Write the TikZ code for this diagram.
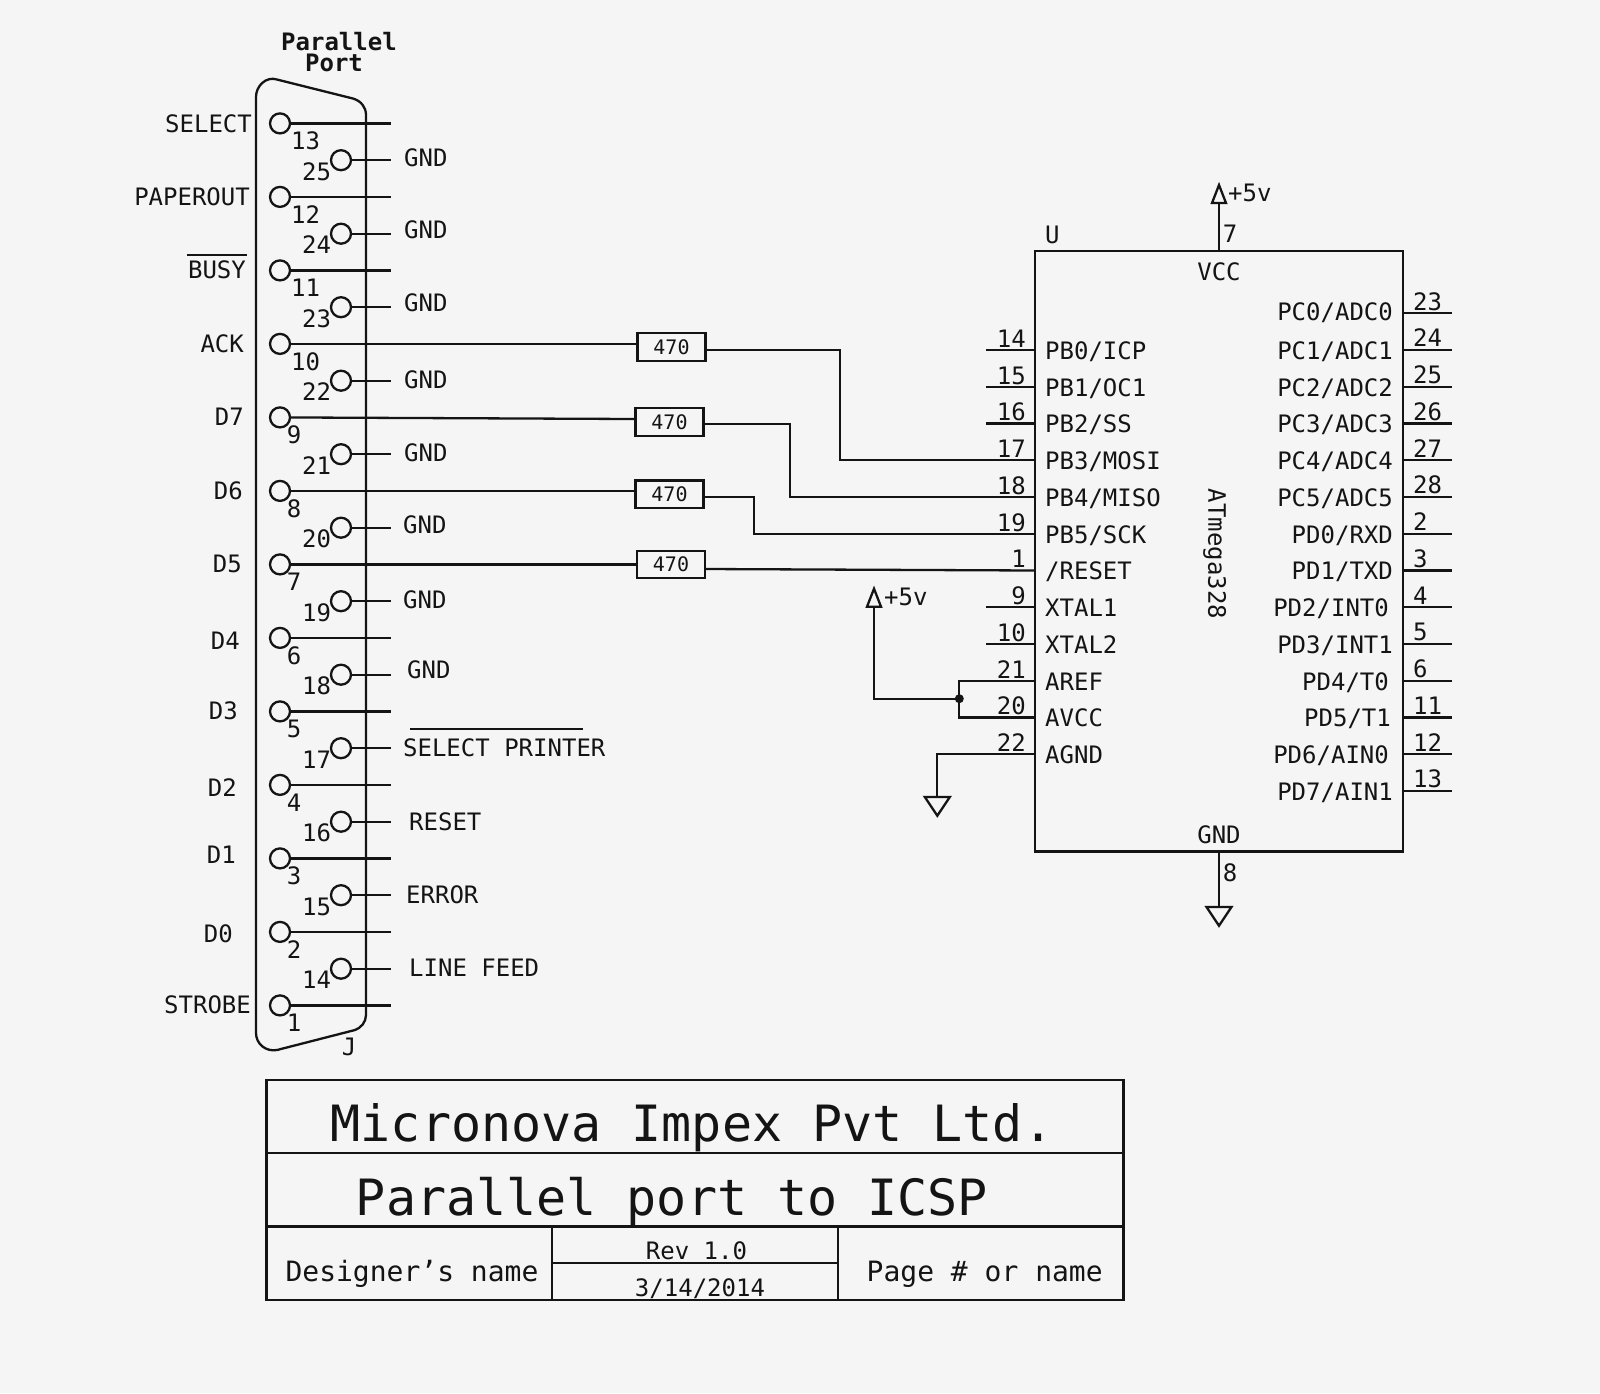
\documentclass[tikz,border=0pt]{standalone}
\usepackage{fontspec}
\setmainfont{DejaVu Sans Mono}
\newcommand{\fsz}[1]{\fontsize{#1}{#1}\selectfont}
\definecolor{paper}{HTML}{F5F5F5}
\definecolor{ink}{HTML}{141414}
\tikzset{
  lbl/.style={font=\fsz{24},text=ink,inner sep=0pt,text height=17.5pt,text depth=0pt},
  lblr/.style={font=\fsz{20},text=ink,inner sep=0pt,text height=14.6pt,text depth=0pt},
  lblm/.style={font=\fsz{28},text=ink,inner sep=0pt,text height=20.4pt,text depth=0pt},
  lblb/.style={font=\fsz{50},text=ink,inner sep=0pt,text height=36.5pt,text depth=0pt},
  hdr/.style={lbl,font=\fsz{24}\bfseries},
  socket/.style={circle,draw=ink,line width=2.3pt,minimum size=20pt,inner sep=0pt},
  res/.style={rectangle,draw=ink,line width=2.3pt,minimum width=68pt,minimum height=27.5pt,lblr},
  vdd/.pic={\draw[ink,line width=2.3pt] (-7,0) -- (0,-18) -- (7,0) -- cycle;},
  gnd/.pic={\draw[ink,line width=2.3pt] (-12.5,0) -- (12.5,0) -- (0,18.7) -- cycle;}
}
\begin{document}
\begin{tikzpicture}
  [x=1pt,y=-1pt,line width=2.3pt,every path/.style={draw=ink}]

  \fill[paper,draw=none] (0,0) rectangle (1600,1393);

  \node[hdr] (hdr1) at (339,42) {Parallel};
  \node[hdr] (hdr2) at (334,63) {Port};

  \draw (256,97) .. controls (256,86) and (266,76) .. (277,79.5)
    -- (353,98.5) .. controls (361,101) and (366,107) .. (366,115)
    -- (366,1015) .. controls (366,1022) and (361,1028) .. (355,1030)
    -- (277,1050) .. controls (266,1052) and (256,1044) .. (256,1033) -- cycle;
  \node[lbl] (jname) at (349,1047) {J};

  \foreach \pnum/\prow in {13/0,12/1,11/2,10/3,9/4,8/5,7/6,6/7,5/8,4/9,3/10,2/11,1/12}
    \node[socket] (j\pnum) at (280,{123.4+73.5*\prow}) {};
  \foreach \pnum/\prow in {25/0,24/1,23/2,22/3,21/4,20/5,19/6,18/7,17/8,16/9,15/10,14/11}
    \node[socket] (j\pnum) at (341,{160.2+73.5*\prow}) {};

  \foreach \pnum in {13,12,11,10}
    \node[lbl] (n\pnum) at ([shift={(25.5,17.5)}]j\pnum) {\pnum};
  \foreach \pnum in {9,8,7,6,5,4,3,2,1}
    \node[lbl] (n\pnum) at ([shift={(14,17.5)}]j\pnum) {\pnum};
  \foreach \pnum in {25,24,23,22,21,20,19,18,17,16,15,14}
    \node[lbl] (n\pnum) at ([shift={(-24.5,11.5)}]j\pnum) {\pnum};

  \foreach \pnum in {13,12,11,6,5,4,3,2,1,25,24,23,22,21,20,19,18,17,16,15,14} {
    \coordinate (e\pnum) at (391,0 |- j\pnum);
    \draw (j\pnum) -- (e\pnum);
  }

  \foreach \pname/\px/\py in {SELECT/253/123.5,PAPEROUT/251/197,BUSY/247/270,ACK/245/344,
      D7/245/417,D6/244/491,D5/243/564,D4/241/641,D3/239/711,D2/238/788,D1/237/855,
      D0/234/934,STROBE/252/1005}
    \node[lbl,anchor=east] (l\pname) at (\px,\py) {\pname};
  \draw ([yshift=5pt]lBUSY.north west) -- ([yshift=5pt]lBUSY.north east);

  \foreach \pname/\px/\py in {a/403/158,b/403/230,c/403/303,d/403/380,e/403/453,
      f/402/525,g/402/600,h/406/670}
    \node[lbl,anchor=west] (gnd\pname) at (\px,\py) {GND};
  \node[lbl,anchor=west] (selpr) at (402,748) {SELECT PRINTER};
  \node[lbl,anchor=west] (rst) at (408,822) {RESET};
  \node[lbl,anchor=west] (err) at (405,895) {ERROR};
  \node[lbl,anchor=west] (lf) at (408,968) {LINE FEED};
  \draw ([shift={(8,-9)}]selpr.north west) -- ([shift={(-24,-9)}]selpr.north east);

  \node[res] (r1) at (671.5,347) {470};
  \node[res] (r2) at (669.5,422) {470};
  \node[res] (r3) at (669.5,494.3) {470};
  \node[res] (r4) at (671,564.5) {470};

  \node[draw,minimum width=368pt,minimum height=600.5pt,inner sep=0pt] (u) at (1219,551.3) {};
  \node[lbl,anchor=west] (uname) at (1044,235) {U};
  \node[lbl] (vcc) at (1219,271.7) {VCC};
  \node[lbl] (gndu) at (1219,835) {GND};
  \node[lbl,rotate=-90] (chip) at (1217,554) {ATmega328};

  \foreach \pnum/\pname/\prow in {14/{PB0/ICP}/0,15/{PB1/OC1}/1,16/{PB2/SS}/2,17/{PB3/MOSI}/3,
      18/{PB4/MISO}/4,19/{PB5/SCK}/5,1/{/RESET}/6,9/XTAL1/7,10/XTAL2/8,21/AREF/9,20/AVCC/10,22/AGND/11} {
    \coordinate (u\pnum) at (1035,{350+36.75*\prow});
    \node[lbl,anchor=west] (s\pnum) at (1044,{350.5+36.75*\prow}) {\pname};
    \node[lbl,anchor=east] (m\pnum) at (1027,{338.5+36.75*\prow}) {\pnum};
  }
  \foreach \pnum/\pname/\prow/\px/\py in {23/{PC0/ADC0}/-1/1394/-2,24/{PC1/ADC1}/0/1394/0,25/{PC2/ADC2}/1/1394/0,
      26/{PC3/ADC3}/2/1394/0,27/{PC4/ADC4}/3/1394/0,28/{PC5/ADC5}/4/1394/0,2/{PD0/RXD}/5/1394/0,
      3/{PD1/TXD}/6/1394/0,4/{PD2/INT0}/7/1390/0,5/{PD3/INT1}/8/1394/0,6/{PD4/T0}/9/1390/0,
      11/{PD5/T1}/10/1392/0,12/{PD6/AIN0}/11/1390/0,13/{PD7/AIN1}/12/1394/0} {
    \coordinate (w\pnum) at (1403,{350+36.75*\prow});
    \coordinate (x\pnum) at (1452,{350+36.75*\prow});
    \draw (w\pnum) -- (x\pnum);
    \node[lbl,anchor=east] (t\pnum) at (\px,{350.5+\py+36.75*\prow}) {\pname};
    \node[lbl,anchor=west] (q\pnum) at (1412,{338+36.75*\prow}) {\pnum};
  }

  \foreach \pnum/\prow in {14/0,15/1,16/2,9/7,10/8} {
    \coordinate (a\pnum) at (986,{350+36.75*\prow});
    \draw (a\pnum) -- (u\pnum);
  }

  \draw (j10) -- (r1.west |- j10);
  \draw (j9) -- (r2.west |- 0,419);
  \draw (j8) -- (r3.west |- j8);
  \draw (j7) -- (r4.west |- j7);

  \coordinate (t1) at (840,350.3);
  \coordinate (t2) at (790,424.3);
  \coordinate (t3) at (754,497.3);
  \draw ([yshift=-3.3pt]r1.east) -- (t1) |- (u17);
  \draw ([yshift=-2.3pt]r2.east) -- (t2) |- (u18);
  \draw ([yshift=-3pt]r3.east) -- (t3) |- (u19);
  \draw ([yshift=-4.5pt]r4.east) -- (u1);

  \coordinate (vcctop) at (1219,203);
  \draw (vcctop) -- (vcctop |- u.north);
  \pic at (vcctop) {vdd};
  \node[lbl,anchor=west] (v5a) at (1227,192.7) {+5v};
  \node[lbl] (n7b) at (1230,234) {7};

  \coordinate (gndtop) at (1219,907);
  \draw (gndtop |- u.south) -- (gndtop);
  \pic at (gndtop) {gnd};
  \node[lbl] (n8b) at (1230,872.5) {8};

  \node[circle,fill=ink,minimum size=9pt,inner sep=0pt] (dot) at (959.3,698.7) {};
  \coordinate (vtop) at (874,606.7);
  \node[lbl,anchor=west] (v5b) at (883,596.7) {+5v};
  \draw (dot.center) -- (vtop |- dot) -- (vtop);
  \pic at (vtop) {vdd};
  \draw (u21) -| (dot.center) |- (u20);

  \coordinate (agnd) at (937.3,797);
  \draw (u22) -| (agnd);
  \pic at (agnd) {gnd};

  \coordinate (tl) at (266.5,1080);
  \coordinate (tr) at (1123.5,1300);
  \draw (tl) rectangle (tr);
  \draw (tl |- 0,1153) -- (tr |- 0,1153);
  \draw (tl |- 0,1226.5) -- (tr |- 0,1226.5);
  \draw (552,1226.5) -- (552,1300);
  \draw (838,1226.5) -- (838,1300);
  \draw (552,1263) -- (838,1263);
  \node[lblb] (ttl1) at (692,1123) {Micronova Impex Pvt Ltd.};
  \node[lblb] (ttl2) at (672,1197) {Parallel port to ICSP};
  \node[lblm] (ttl3) at (412,1271.7) {Designer's name};
  \node[lbl] (ttl4) at (696.5,1251) {Rev 1.0};
  \node[lbl] (ttl5) at (700,1288) {3/14/2014};
  \node[lblm] (ttl6) at (984.7,1271.7) {Page \# or name};
\end{tikzpicture}
\end{document}
